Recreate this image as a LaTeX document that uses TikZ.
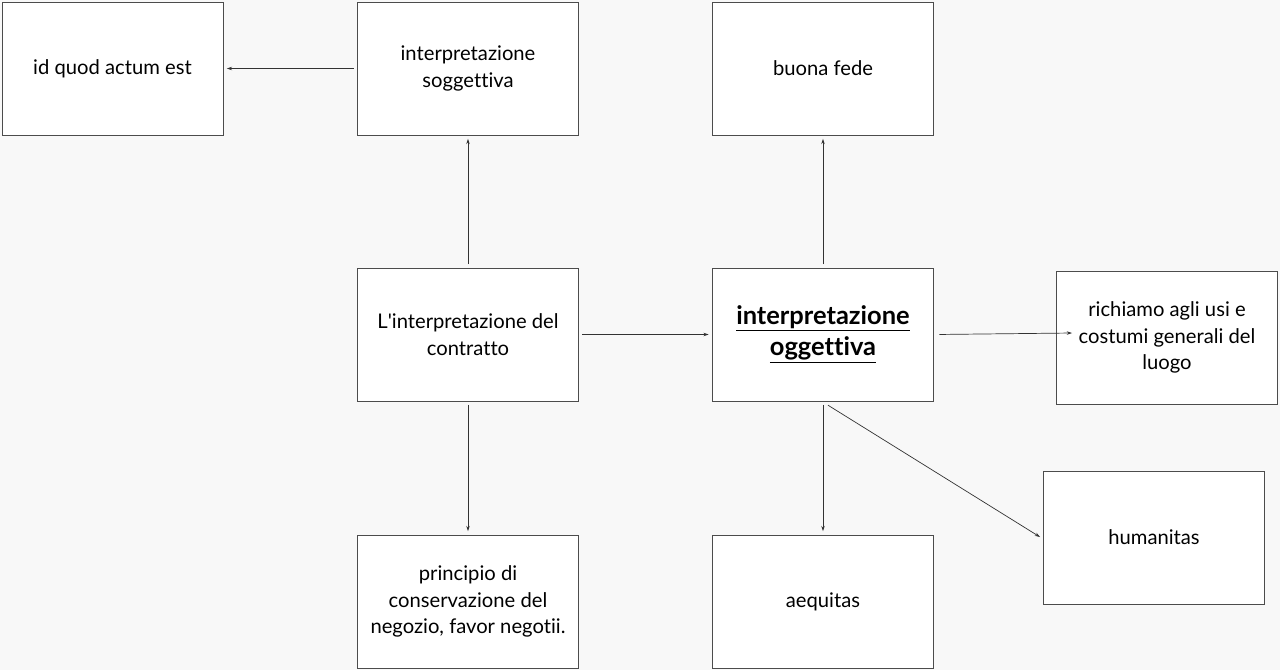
\documentclass[tikz,border=0pt]{standalone}
\usepackage{fontspec}
\setmainfont{Lato}[Ligatures=NoCommon]
\usetikzlibrary{arrows.meta}
\definecolor{bgcol}{HTML}{F8F8F8}
\begin{document}
\begin{tikzpicture}[x=0.02cm,y=-0.02cm,
    box/.style={draw=black!70, fill=white, minimum width=4.42cm, minimum height=2.66cm,
      align=center, font=\fontsize{11.5}{15}\selectfont},
    link/.style={draw=black!80, line width=0.4pt, shorten <=2pt, shorten >=2pt, -{Stealth[length=3pt,width=2pt]}}]
      \fill[bgcol] (0,0) rectangle (1280,670);
      \node[box] (idquod) at (112.5,68.5) {id quod actum est};
      \node[box] (sogg) at (468,68.5) {interpretazione\\soggettiva};
      \node[box] (buona) at (823,68.5) {buona fede};
      \node[box] (contratto) at (468,334.5) {L\textquotesingle interpretazione del\\contratto};
      \node[box, font=\fontsize{14.5}{18}\selectfont\bfseries] (ogg) at (823,334.5) {\underline{interpretazione}\\\underline{oggettiva}};
      \node[box] (usi) at (1167,337.5) {richiamo agli usi e\\costumi generali del\\luogo};
      \node[box] (humanitas) at (1154,537.5) {humanitas};
      \node[box] (principio) at (468,601.5) {principio di\\conservazione del\\negozio, favor negotii.};
      \node[box] (aequitas) at (823,601.5) {aequitas};
      \coordinate (usiend) at (1072,333);
      \coordinate (humend) at (1040,537);
      \draw[link] (sogg) -- (idquod);
      \draw[link] (contratto) -- (sogg);
      \draw[link] (contratto) -- (principio);
      \draw[link] (contratto) -- (ogg);
      \draw[link] (ogg) -- (buona);
      \draw[link] (ogg) -- (aequitas);
      \draw[link, shorten >=0pt] (ogg.east) ++(2,0) -- (usiend);
      \draw[link, shorten >=0pt] (ogg.south) ++(2,2) -- (humend);
\end{tikzpicture}
\end{document}
